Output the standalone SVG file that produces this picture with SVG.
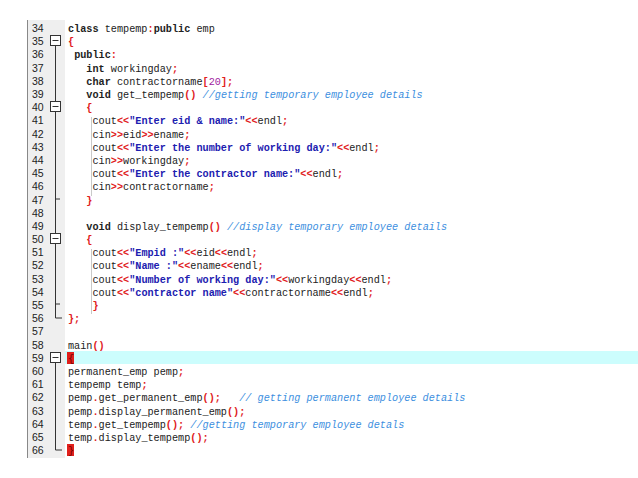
<svg xmlns="http://www.w3.org/2000/svg" width="638" height="478" viewBox="0 0 638 478">
<style>
text{font-family:"Liberation Mono","DejaVu Sans Mono",monospace;font-size:10.2px;fill:#222;white-space:pre}
.ln{font-family:"Liberation Sans",Arial,sans-serif;font-size:10.5px;fill:#222}
.k{font-weight:bold}
.p{fill:#e0201c;font-weight:bold}
.s{fill:#1c20b0;font-weight:bold}
.c{fill:#3d8fe0;font-style:italic}
.n{fill:#a020a0}
.fb{fill:#fff;stroke:#333;stroke-width:1}
</style>
<rect width="638" height="478" fill="#fff"/>
<g id="gutter">
<rect x="27" y="20" width="38" height="438" fill="#efefef"/>
<line x1="27.5" y1="20" x2="27.5" y2="458" stroke="#888"/>
<line x1="55.5" y1="46" x2="55.5" y2="318" stroke="#333"/>
<line x1="55.5" y1="318" x2="62" y2="318" stroke="#333"/>
<line x1="55.5" y1="304" x2="60" y2="304" stroke="#333"/>
<line x1="55.5" y1="199" x2="60" y2="199" stroke="#333"/>
<line x1="55.5" y1="363" x2="55.5" y2="450" stroke="#333"/>
<line x1="55.5" y1="450" x2="62" y2="450" stroke="#333"/>
<rect class="fb" x="50.5" y="35.5" width="10" height="10"/><line x1="52.5" y1="40.5" x2="58.5" y2="40.5" stroke="#333"/>
<rect class="fb" x="50.5" y="101.5" width="10" height="10"/><line x1="52.5" y1="106.5" x2="58.5" y2="106.5" stroke="#333"/>
<rect class="fb" x="50.5" y="233.5" width="10" height="10"/><line x1="52.5" y1="238.5" x2="58.5" y2="238.5" stroke="#333"/>
<rect class="fb" x="50.5" y="352.5" width="10" height="10"/><line x1="52.5" y1="357.5" x2="58.5" y2="357.5" stroke="#333"/>
<text class="ln" x="32" y="32">34</text><text class="ln" x="32" y="45.2">35</text><text class="ln" x="32" y="58.4">36</text><text class="ln" x="32" y="71.6">37</text><text class="ln" x="32" y="84.8">38</text><text class="ln" x="32" y="98">39</text><text class="ln" x="32" y="111.1">40</text><text class="ln" x="32" y="124.3">41</text><text class="ln" x="32" y="137.5">42</text><text class="ln" x="32" y="150.7">43</text><text class="ln" x="32" y="163.9">44</text><text class="ln" x="32" y="177.1">45</text><text class="ln" x="32" y="190.3">46</text><text class="ln" x="32" y="203.5">47</text><text class="ln" x="32" y="216.7">48</text><text class="ln" x="32" y="229.9">49</text><text class="ln" x="32" y="243">50</text><text class="ln" x="32" y="256.2">51</text><text class="ln" x="32" y="269.4">52</text><text class="ln" x="32" y="282.6">53</text><text class="ln" x="32" y="295.8">54</text><text class="ln" x="32" y="309">55</text><text class="ln" x="32" y="322.2">56</text><text class="ln" x="32" y="335.4">57</text><text class="ln" x="32" y="348.6">58</text><text class="ln" x="32" y="361.8">59</text><text class="ln" x="32" y="375">60</text><text class="ln" x="32" y="388.1">61</text><text class="ln" x="32" y="401.3">62</text><text class="ln" x="32" y="414.5">63</text><text class="ln" x="32" y="427.7">64</text><text class="ln" x="32" y="440.9">65</text><text class="ln" x="32" y="454.1">66</text>
</g>
<g id="code">
<rect x="65" y="351" width="573" height="13" fill="#ccfdfd"/>
<line x1="91.5" y1="117" x2="91.5" y2="196" stroke="#bbb" stroke-width="0.8"/>
<line x1="91.5" y1="249" x2="91.5" y2="314" stroke="#bbb" stroke-width="0.8"/>
<rect x="67" y="352" width="7" height="12" fill="#e0201c"/>
<rect x="67" y="444" width="7" height="12" fill="#e0201c"/>
<text x="68" y="32"><tspan class="k">class</tspan> tempemp<tspan class="p">:</tspan><tspan class="k">public</tspan> emp</text>
<text x="68" y="45.2"><tspan class="p">{</tspan></text>
<text x="68" y="58.4"> <tspan class="k">public</tspan><tspan class="p">:</tspan></text>
<text x="68" y="71.6">   <tspan class="k">int</tspan> workingday<tspan class="p">;</tspan></text>
<text x="68" y="84.8">   <tspan class="k">char</tspan> contractorname<tspan class="p">[</tspan><tspan class="n">20</tspan><tspan class="p">];</tspan></text>
<text x="68" y="98">   <tspan class="k">void</tspan> get_tempemp<tspan class="p">()</tspan> <tspan class="c">//getting temporary employee details</tspan></text>
<text x="68" y="111.1">   <tspan class="p">{</tspan></text>
<text x="68" y="124.3">    cout<tspan class="p">&lt;&lt;</tspan><tspan class="s">"Enter eid &amp; name:"</tspan><tspan class="p">&lt;&lt;</tspan>endl<tspan class="p">;</tspan></text>
<text x="68" y="137.5">    cin<tspan class="p">&gt;&gt;</tspan>eid<tspan class="p">&gt;&gt;</tspan>ename<tspan class="p">;</tspan></text>
<text x="68" y="150.7">    cout<tspan class="p">&lt;&lt;</tspan><tspan class="s">"Enter the number of working day:"</tspan><tspan class="p">&lt;&lt;</tspan>endl<tspan class="p">;</tspan></text>
<text x="68" y="163.9">    cin<tspan class="p">&gt;&gt;</tspan>workingday<tspan class="p">;</tspan></text>
<text x="68" y="177.1">    cout<tspan class="p">&lt;&lt;</tspan><tspan class="s">"Enter the contractor name:"</tspan><tspan class="p">&lt;&lt;</tspan>endl<tspan class="p">;</tspan></text>
<text x="68" y="190.3">    cin<tspan class="p">&gt;&gt;</tspan>contractorname<tspan class="p">;</tspan></text>
<text x="68" y="203.5">   <tspan class="p">}</tspan></text>
<text x="68" y="229.9">   <tspan class="k">void</tspan> display_tempemp<tspan class="p">()</tspan> <tspan class="c">//display temporary employee details</tspan></text>
<text x="68" y="243">   <tspan class="p">{</tspan></text>
<text x="68" y="256.2">    cout<tspan class="p">&lt;&lt;</tspan><tspan class="s">"Empid :"</tspan><tspan class="p">&lt;&lt;</tspan>eid<tspan class="p">&lt;&lt;</tspan>endl<tspan class="p">;</tspan></text>
<text x="68" y="269.4">    cout<tspan class="p">&lt;&lt;</tspan><tspan class="s">"Name :"</tspan><tspan class="p">&lt;&lt;</tspan>ename<tspan class="p">&lt;&lt;</tspan>endl<tspan class="p">;</tspan></text>
<text x="68" y="282.6">    cout<tspan class="p">&lt;&lt;</tspan><tspan class="s">"Number of working day:"</tspan><tspan class="p">&lt;&lt;</tspan>workingday<tspan class="p">&lt;&lt;</tspan>endl<tspan class="p">;</tspan></text>
<text x="68" y="295.8">    cout<tspan class="p">&lt;&lt;</tspan><tspan class="s">"contractor name"</tspan><tspan class="p">&lt;&lt;</tspan>contractorname<tspan class="p">&lt;&lt;</tspan>endl<tspan class="p">;</tspan></text>
<text x="68" y="309">    <tspan class="p">}</tspan></text>
<text x="68" y="322.2"><tspan class="p">};</tspan></text>
<text x="68" y="348.6">main<tspan class="p">()</tspan></text>
<text x="68" y="361.8"><tspan fill="#700">{</tspan></text>
<text x="68" y="375">permanent_emp pemp<tspan class="p">;</tspan></text>
<text x="68" y="388.1">tempemp temp<tspan class="p">;</tspan></text>
<text x="68" y="401.3">pemp<tspan class="p">.</tspan>get_permanent_emp<tspan class="p">();</tspan>   <tspan class="c">// getting permanent employee details</tspan></text>
<text x="68" y="414.5">pemp<tspan class="p">.</tspan>display_permanent_emp<tspan class="p">();</tspan></text>
<text x="68" y="427.7">temp<tspan class="p">.</tspan>get_tempemp<tspan class="p">();</tspan> <tspan class="c">//getting temporary employee detals</tspan></text>
<text x="68" y="440.9">temp<tspan class="p">.</tspan>display_tempemp<tspan class="p">();</tspan></text>
<text x="68" y="454.1"><tspan fill="#700">}</tspan></text>
</g>
</svg>
